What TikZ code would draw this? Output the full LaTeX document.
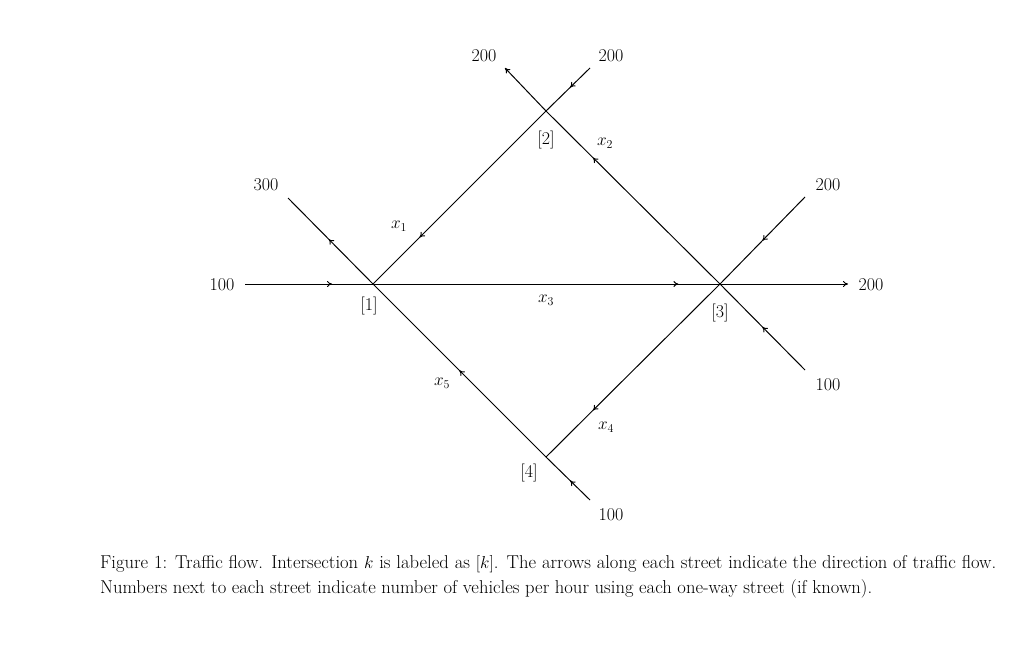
\documentclass[tikz,border=0pt]{standalone}
\usetikzlibrary{decorations.markings,arrows.meta}
\begin{document}
\begin{tikzpicture}[x=1pt,y=-1pt,font=\fontsize{18}{21}\selectfont,
  street/.style={line width=1pt,>={To[length=5pt,width=6pt]}},
  ar/.style={postaction={decorate},decoration={markings,mark=at position #1 with {\arrow{To[length=5pt,width=6pt]}}}},
  lbl/.style={inner sep=1pt}]
\useasboundingbox (0,0) rectangle (1024,646);
\coordinate (n1) at (373,284);
\coordinate (n2) at (546,111);
\coordinate (n3) at (720,284);
\coordinate (n4) at (546,457);
\coordinate (a) at (288,198);
\coordinate (b) at (245,284);
\coordinate (c) at (505,68);
\coordinate (d) at (590,68);
\coordinate (e) at (805,197);
\coordinate (f) at (848,284);
\coordinate (g) at (805,370);
\coordinate (h) at (590,500);
\draw[street,ar=0.52] (n1) -- (a);
\draw[street,ar=0.68] (b) -- (n1);
\draw[street,ar=0.73] (n2) -- (n1);
\draw[street,ar=0.45] (d) -- (n2);
\draw[street,->] (n2) -- (c);
\draw[street,ar=0.73] (n3) -- (n2);
\draw[street,ar=0.88] (n1) -- (n3);
\draw[street,->] (n3) -- (f);
\draw[street,ar=0.5] (e) -- (n3);
\draw[street,ar=0.5] (g) -- (n3);
\draw[street,ar=0.73] (n3) -- (n4);
\draw[street,ar=0.5] (n4) -- (n1);
\draw[street,ar=0.45] (h) -- (n4);
\node[lbl] (l300) at (266,185) {300};
\node[lbl] (l100a) at (222,285) {100};
\node[lbl] (l200a) at (484,56) {200};
\node[lbl] (l200b) at (611,56) {200};
\node[lbl] (l200c) at (828,185) {200};
\node[lbl] (l200d) at (871,285) {200};
\node[lbl] (l100b) at (828,385) {100};
\node[lbl] (l100c) at (611,515) {100};
\node[lbl] (k1) at (369,306) {[1]};
\node[lbl] (k2) at (546,140) {[2]};
\node[lbl] (k3) at (720,313) {[3]};
\node[lbl] (k4) at (529,473) {[4]};
\node[lbl] (x1) at (399,226) {$x_1$};
\node[lbl] (x2) at (605,143) {$x_2$};
\node[lbl] (x3) at (546,300) {$x_3$};
\node[lbl] (x4) at (606,427) {$x_4$};
\node[lbl] (x5) at (442,383) {$x_5$};
\node[anchor=north west,text width=896pt,align=justify,inner sep=0pt,font=\fontsize{18.6}{25}\selectfont] (cap) at (100,555)
 {Figure 1: Traffic flow. Intersection $k$ is labeled as $[k]$. The arrows along each street indicate the direction of traffic flow. Numbers next to each street indicate number of vehicles per hour using each one-way street (if known).};
\end{tikzpicture}
\end{document}
